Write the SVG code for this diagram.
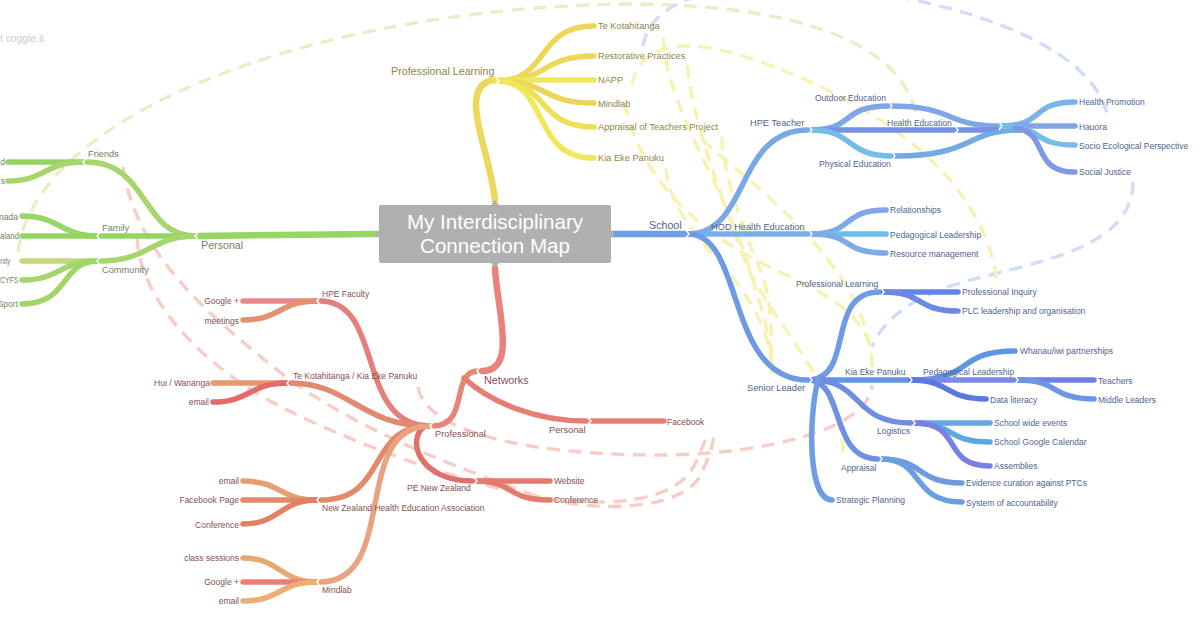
<svg xmlns="http://www.w3.org/2000/svg" width="1200" height="630" viewBox="0 0 1200 630">
<style>
text{font-family:"Liberation Sans",Arial,sans-serif;font-size:8.5px}
.big{font-size:10.7px}
.mid{font-size:9.25px}
.e{text-anchor:end}
.g text{fill:#6f8263}.y text{fill:#8f8548}.b text{fill:#4f6390}.r text{fill:#854f4f}
#connectors path{fill:none;stroke-width:5.5;stroke-linecap:round}
#links path{fill:none;stroke-width:3.4;stroke-dasharray:13 8.5;stroke-linecap:butt}
.lp{stroke:#f7cdc6}.ly{stroke:#f8f2b2}.lb{stroke:#d0dcf8}.lg{stroke:#e6efc6}
#joints use{fill:none;stroke:#fff;stroke-width:1.4}
</style>
<defs><path id="n" d="M1,-4 L-2,0 L1,4"/><path id="p" d="M-1,-4 L2,0 L-1,4"/></defs>
<rect width="1200" height="630" fill="#fff"/>
<text x="0" y="42" fill="#cccccc" style="font-size:10.3px">t coggle.it</text>
<g id="links">
<path class="lg" d="M18,252 C30,150 190,60 420,22 C650,-15 900,0 917,120"/>
<path class="lb" d="M643,46 C650,5 700,-10 760,-15 C860,-20 1090,20 1108,118"/>
<path class="lb" d="M1133,182 C1133,260 1000,265 940,290 C905,303 880,325 872,347"/>
<path class="ly" d="M632,85 C640,40 690,40 740,55 C880,100 985,180 997,282"/>
<path class="ly" d="M625,103 C640,180 700,235 780,272 C830,295 875,320 872,367"/>
<path class="ly" d="M663,37 C668,110 720,180 745,255 C755,290 772,330 772,373"/>
<path class="ly" d="M687,65 C695,130 720,190 745,262 C770,320 850,400 842,457"/>
<path class="ly" d="M702,140 C760,190 870,270 872,367"/>
<path class="ly" d="M722,137 C722,170 740,220 757,262 C775,300 770,340 772,373"/>
<path class="ly" d="M666,168 C668,200 690,230 720,262 C745,290 772,330 772,373"/>
<path class="lp" d="M123,167 C135,250 200,310 290,380 C360,430 450,465 533,495 C600,515 690,510 703,470 C710,455 713,445 715,430"/>
<path class="lp" d="M137,237 C140,300 200,360 263,397 C330,435 440,475 517,493 C600,510 680,505 697,460 C703,445 706,440 707,433"/>
<path class="lp" d="M418,387 C425,430 520,455 660,455 C760,455 870,430 872,385"/>
</g>
<g id="connectors">
<path stroke="#97d565" style="stroke-width:6.5" d="M376,234 L198,236"/>
<path stroke="#a8d66e" d="M196,236 C140,236 150,162 86,162"/>
<path stroke="#93d562" d="M196,236 L100,236"/>
<path stroke="#a4d66c" d="M196,236 C150,236 150,261 100,261"/>
<path stroke="#96d45f" d="M83,162 L8,162"/>
<path stroke="#a6d56a" d="M83,162 C45,162 45,181 8,181"/>
<path stroke="#98d666" d="M98,236 C60,236 60,216 22,216"/>
<path stroke="#93d562" d="M98,236 L22,236"/>
<path stroke="#c5d87e" d="M98,261 L22,261"/>
<path stroke="#a4d66c" d="M98,261 C60,261 60,280 22,280"/>
<path stroke="#a0d668" d="M98,261 C60,261 70,304 22,304"/>
<path stroke="#ecd85a" style="stroke-width:6.5" d="M495,200 C490,160 476,130 476,105 C476,90 482,81 495,80"/>
<path stroke="#eed658" d="M497,81 C550,81 535,26 594,26"/>
<path stroke="#ecd85a" d="M497,81 C550,81 540,56 594,56"/>
<path stroke="#efe65c" d="M497,80 L594,80"/>
<path stroke="#edd457" d="M497,81 C550,81 540,103 594,103"/>
<path stroke="#efdf55" d="M497,81 C550,81 535,127 594,127"/>
<path stroke="#f0e858" d="M497,81 C550,81 530,158 594,158"/>
<path stroke="#6f9fe0" style="stroke-width:6.5" d="M612,234 L685,234"/>
<path stroke="#7aa8e6" d="M688,234 C750,234 735,130 808,130"/>
<path stroke="#78aee8" d="M688,234 L808,234"/>
<path stroke="#6c9be4" d="M688,234 C745,234 725,380 808,380"/>
<path stroke="#7fa6e6" d="M811,130 C855,130 840,106 889,106"/>
<path stroke="#7593e4" d="M811,130 L955,130"/>
<path stroke="#74bde6" d="M811,130 C855,130 845,156 892,156"/>
<path stroke="#7fa6e6" d="M890,106 C955,106 945,126 999,126"/>
<path stroke="#7593e4" d="M957,130 L1020,130"/>
<path stroke="#72aae4" d="M895,156 C975,156 965,130 1020,130"/>
<path stroke="#78b4e8" d="M1001,126 C1045,126 1030,102 1075,102"/>
<path stroke="#84a5e6" d="M1001,126 L1075,126"/>
<path stroke="#76bce8" d="M1001,126 C1045,126 1030,145 1075,145"/>
<path stroke="#8197e4" d="M1015,128 C1050,132 1030,172 1075,172"/>
<path stroke="#80a8e8" d="M811,234 C855,234 840,210 886,210"/>
<path stroke="#6cbde8" d="M811,234 L886,234"/>
<path stroke="#7eaae6" d="M811,234 C855,234 840,253 886,253"/>
<path stroke="#6f9be4" d="M811,380 C855,375 825,292 880,292"/>
<path stroke="#6495e2" d="M811,380 L908,380"/>
<path stroke="#6e8ee4" d="M811,380 C865,380 850,423 912,423"/>
<path stroke="#7090e2" d="M811,380 C845,385 830,459 878,459"/>
<path stroke="#6f9ce4" d="M818,380 C808,420 808,500 832,500"/>
<path stroke="#6484e6" d="M883,292 L958,292"/>
<path stroke="#6a88e4" d="M883,292 C925,292 915,311 958,311"/>
<path stroke="#5e96e4" d="M911,380 C975,380 955,351 1015,351"/>
<path stroke="#7b88e4" d="M911,380 L1015,380"/>
<path stroke="#5b78de" d="M911,380 C950,380 945,399 986,399"/>
<path stroke="#6e80e4" d="M1018,380 L1094,380"/>
<path stroke="#6e94e6" d="M1018,380 C1060,380 1050,399 1094,399"/>
<path stroke="#68a6dc" d="M914,423 L990,423"/>
<path stroke="#5ca8e4" d="M914,423 C955,423 945,442 990,442"/>
<path stroke="#7a80e2" d="M914,423 C965,423 940,466 990,466"/>
<path stroke="#6f9ae0" d="M881,459 C925,459 915,483 962,483"/>
<path stroke="#6a9ee2" d="M881,459 C925,459 910,502 962,502"/>
<path stroke="#e8827a" style="stroke-width:6.5" d="M495,268 C497,310 518,371 482,371"/>
<path stroke="#e68676" d="M478,371 C450,371 470,426 433,426"/>
<path stroke="#e67e72" d="M464,378 C490,402 535,421 586,421"/>
<path stroke="#e88072" d="M591,421 L664,421"/>
<path stroke="#e37f7d" d="M430,426 C355,426 385,301 320,301"/>
<path stroke="#e28a70" d="M430,426 C360,426 350,383 290,383"/>
<path stroke="#e0706a" d="M425,426 C405,440 420,481 472,481"/>
<path stroke="#e28a6c" d="M430,426 C365,426 390,500 320,500"/>
<path stroke="#e8a480" d="M430,426 C350,426 400,582 320,582"/>
<path stroke="#ea8a88" d="M317,301 L243,301"/>
<path stroke="#e29070" d="M317,301 C280,301 280,320 243,320"/>
<path stroke="#e49a6e" d="M287,383 L213,383"/>
<path stroke="#e56a6a" d="M287,383 C250,383 250,402 213,402"/>
<path stroke="#e4a070" d="M317,500 C280,500 280,481 243,481"/>
<path stroke="#e08a68" d="M317,500 L243,500"/>
<path stroke="#e28064" d="M317,500 C280,500 280,524 243,524"/>
<path stroke="#e8a870" d="M317,582 C280,582 280,558 243,558"/>
<path stroke="#e88078" d="M317,582 L243,582"/>
<path stroke="#ecae74" d="M317,582 C280,582 280,601 243,601"/>
<path stroke="#e47a6c" d="M476,481 L550,481"/>
<path stroke="#e47c6e" d="M476,481 C515,481 505,500 550,500"/>
</g>
<g id="joints">
<use href="#n" x="197" y="236"/><use href="#n" x="85" y="162"/><use href="#n" x="99" y="236"/><use href="#n" x="99" y="261"/><use href="#n" x="479" y="371"/><use href="#n" x="319" y="301"/><use href="#n" x="289" y="383"/><use href="#n" x="319" y="500"/><use href="#n" x="319" y="582"/><use href="#n" x="432" y="426"/>
<use href="#p" x="497" y="81"/><use href="#p" x="687" y="234"/><use href="#p" x="810" y="130"/><use href="#p" x="810" y="234"/><use href="#p" x="810" y="380"/><use href="#p" x="890" y="106"/><use href="#p" x="956" y="130"/><use href="#p" x="893" y="156"/><use href="#p" x="1000" y="126"/><use href="#p" x="882" y="292"/><use href="#p" x="910" y="380"/><use href="#p" x="1016" y="380"/><use href="#p" x="913" y="423"/><use href="#p" x="880" y="459"/><use href="#p" x="589" y="421"/><use href="#p" x="475" y="481"/>
</g>
<g id="root"><rect x="379" y="205" width="232" height="58" rx="2" fill="#b0b0b0"/><path d="M491,205 L495,200 L499,205 Z M491,263 L495,268 L499,263 Z M611,230 L615,234 L611,238 Z M379,230 L375,234 L379,238 Z" fill="#b0b0b0"/>
<text x="495" y="229" text-anchor="middle" fill="#fff" style="font-size:20.6px">My Interdisciplinary</text><text x="495" y="253" text-anchor="middle" fill="#fff" style="font-size:20.6px">Connection Map</text></g>
<g class="g">
<g id="personal"><text x="201" y="249" class="big">Personal</text></g>
<g id="friends"><text x="88" y="157" class="mid">Friends</text></g>
<g id="family"><text x="102" y="231" class="mid">Family</text></g>
<g id="community"><text x="102" y="273" class="mid">Community</text></g>
<g id="g1"><text x="5" y="165" class="e">d</text></g>
<g id="g2"><text x="5" y="184" class="e">s</text></g>
<g id="g3"><text x="18" y="220" class="e">nada</text></g>
<g id="g4"><text x="0" y="239" textLength="19" lengthAdjust="spacingAndGlyphs">aland</text></g>
<g id="g5"><text x="0" y="264" textLength="10.5" lengthAdjust="spacingAndGlyphs">nity</text></g>
<g id="g6"><text x="0" y="283" textLength="18.5" lengthAdjust="spacingAndGlyphs">CYFS</text></g>
<g id="g7"><text x="18" y="307" class="e">Sport</text></g>
</g>
<g class="y">
<g id="pl"><text x="391" y="75" class="big">Professional Learning</text></g>
<g id="y1"><text x="598" y="29" class="mid">Te Kotahitanga</text></g>
<g id="y2"><text x="598" y="59" class="mid">Restorative Practices</text></g>
<g id="y3"><text x="598" y="83" class="mid">NAPP</text></g>
<g id="y4"><text x="598" y="107" class="mid">Mindlab</text></g>
<g id="y5"><text x="598" y="130" class="mid">Appraisal of Teachers Project</text></g>
<g id="y6"><text x="598" y="161" class="mid">Kia Eke Panuku</text></g>
</g>
<g class="b">
<g id="school"><text x="649" y="229" class="big">School</text></g>
<g id="hpe"><text x="750" y="126" class="mid">HPE Teacher</text></g>
<g id="hod"><text x="711" y="230" class="mid">HOD Health Education</text></g>
<g id="senior"><text x="747" y="391" class="mid">Senior Leader</text></g>
<g id="b1"><text x="815" y="101">Outdoor Education</text></g>
<g id="b2"><text x="887" y="126">Health Education</text></g>
<g id="b3"><text x="819" y="167">Physical Education</text></g>
<g id="b4"><text x="1079" y="105">Health Promotion</text></g>
<g id="b5"><text x="1079" y="130">Hauora</text></g>
<g id="b6"><text x="1079" y="149">Socio Ecological Perspective</text></g>
<g id="b7"><text x="1079" y="175">Social Justice</text></g>
<g id="b8"><text x="890" y="213">Relationships</text></g>
<g id="b9"><text x="890" y="238">Pedagogical Leadership</text></g>
<g id="b10"><text x="890" y="257">Resource management</text></g>
<g id="b11"><text x="796" y="287">Professional Learning</text></g>
<g id="b12"><text x="962" y="295">Professional Inquiry</text></g>
<g id="b13"><text x="962" y="314">PLC leadership and organisation</text></g>
<g id="b14"><text x="845" y="375">Kia Eke Panuku</text></g>
<g id="b15"><text x="923" y="375">Pedagogical Leadership</text></g>
<g id="b16"><text x="1020" y="354">Whanau/iwi partnerships</text></g>
<g id="b17"><text x="990" y="403">Data literacy</text></g>
<g id="b18"><text x="1098" y="384">Teachers</text></g>
<g id="b19"><text x="1098" y="403">Middle Leaders</text></g>
<g id="b20"><text x="877" y="434">Logistics</text></g>
<g id="b21"><text x="994" y="426">School wide events</text></g>
<g id="b22"><text x="994" y="445">School Google Calendar</text></g>
<g id="b23"><text x="994" y="469">Assemblies</text></g>
<g id="b24"><text x="841" y="471">Appraisal</text></g>
<g id="b25"><text x="966" y="486">Evidence curation against PTCs</text></g>
<g id="b26"><text x="966" y="506">System of accountability</text></g>
<g id="b27"><text x="836" y="503">Strategic Planning</text></g>
</g>
<g class="r">
<g id="networks"><text x="484" y="384" class="big">Networks</text></g>
<g id="r1"><text x="435" y="437" class="mid">Professional</text></g>
<g id="r2"><text x="549" y="433" class="mid">Personal</text></g>
<g id="r3"><text x="667" y="425">Facebook</text></g>
<g id="r4"><text x="322" y="297">HPE Faculty</text></g>
<g id="r5"><text x="293" y="379">Te Kotahitanga / Kia Eke Panuku</text></g>
<g id="r6"><text x="407" y="491">PE New Zealand</text></g>
<g id="r7"><text x="322" y="511">New Zealand Health Education Association</text></g>
<g id="r8"><text x="322" y="593">Mindlab</text></g>
<g id="r9"><text x="239" y="304" class="e">Google +</text></g>
<g id="r10"><text x="239" y="324" class="e">meetings</text></g>
<g id="r11"><text x="210" y="386" class="e">Hui / Wananga</text></g>
<g id="r12"><text x="209" y="405" class="e">email</text></g>
<g id="r13"><text x="239" y="484" class="e">email</text></g>
<g id="r14"><text x="239" y="503" class="e">Facebook Page</text></g>
<g id="r15"><text x="239" y="528" class="e">Conference</text></g>
<g id="r16"><text x="239" y="561" class="e">class sessions</text></g>
<g id="r17"><text x="239" y="585" class="e">Google +</text></g>
<g id="r18"><text x="239" y="604" class="e">email</text></g>
<g id="r19"><text x="554" y="484">Website</text></g>
<g id="r20"><text x="554" y="503">Conference</text></g>
</g>
</svg>
